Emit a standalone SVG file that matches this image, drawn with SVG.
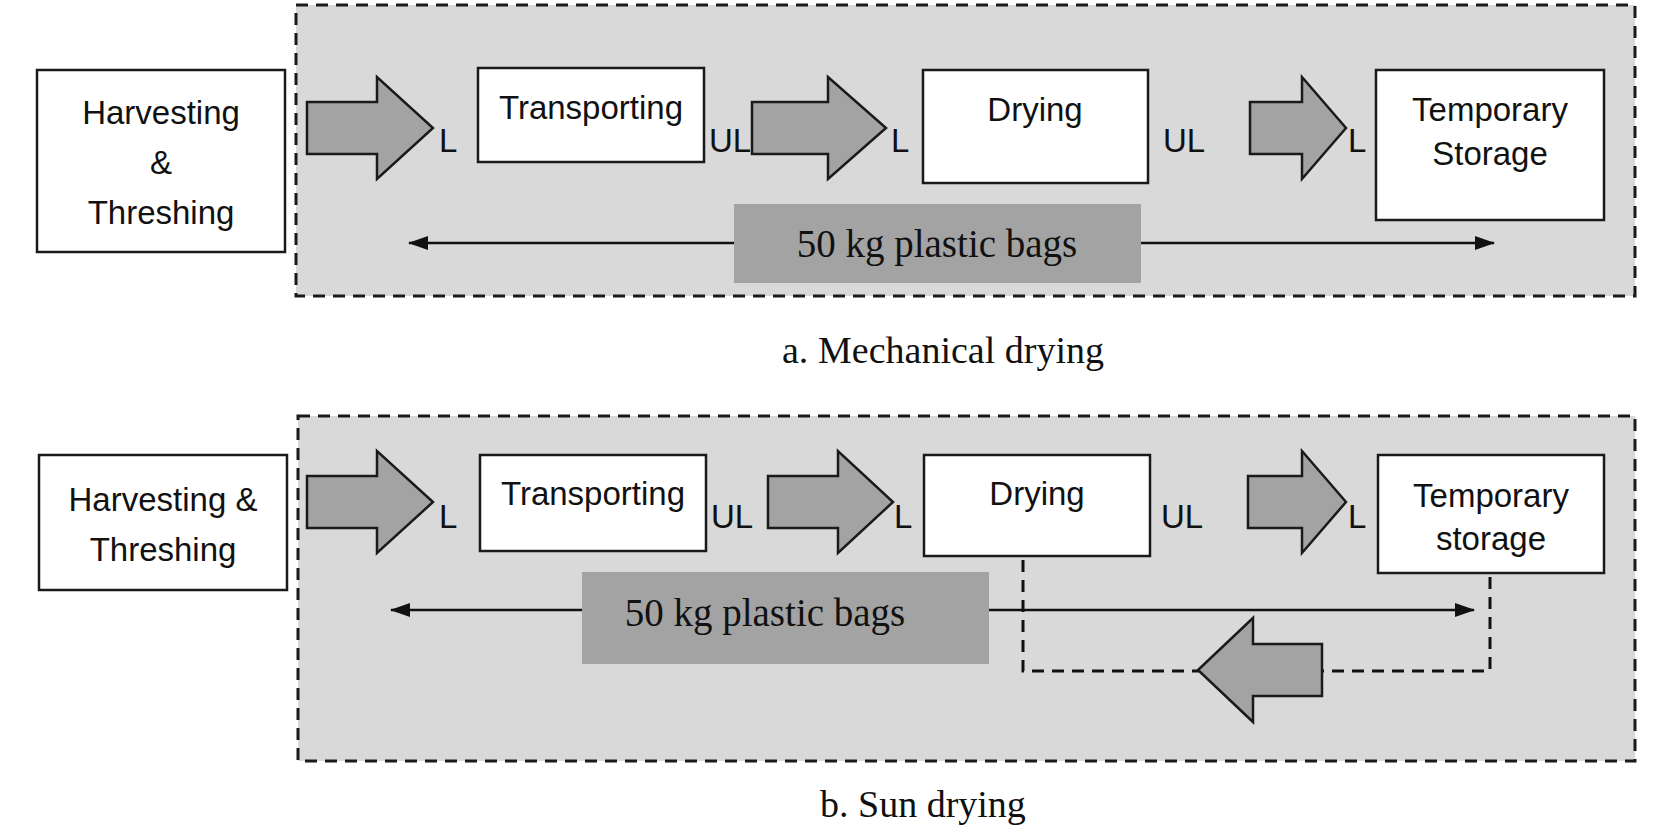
<svg xmlns="http://www.w3.org/2000/svg" width="1657" height="825" viewBox="0 0 1657 825">
<style>
.panel{fill:#d9d9d9;stroke:#1a1a1a;stroke-width:3;stroke-dasharray:12,8}
.box{fill:#fff;stroke:#1a1a1a;stroke-width:2.5}
.t{font-family:"Liberation Sans",Arial,sans-serif;font-size:33px;fill:#111;text-anchor:middle}
.lab{font-family:"Liberation Sans",Arial,sans-serif;font-size:33px;fill:#111}
.arr{fill:#a3a3a3;stroke:#1a1a1a;stroke-width:2.5;stroke-linejoin:miter}
.bag{fill:#a3a3a3}
.bt{font-family:"Liberation Serif","Times New Roman",serif;font-size:39px;fill:#111;text-anchor:middle}
.cap{font-family:"Liberation Serif","Times New Roman",serif;font-size:38px;fill:#111}
.line{stroke:#111;stroke-width:2.5;fill:none}
.dash{stroke:#111;stroke-width:3;fill:none;stroke-dasharray:12,8}
</style>
<defs>
<marker id="ah2" markerWidth="20" markerHeight="14" refX="19" refY="7" orient="auto-start-reverse" markerUnits="userSpaceOnUse" viewBox="0 0 20 14">
<path d="M0,0 L20,7 L0,14 Z" fill="#111"/>
</marker>
</defs>
<rect width="1657" height="825" fill="#fff"/>
<g id="panel-a">
<rect class="panel" x="296" y="5" width="1339" height="291"/>
</g>
<g id="connectors-a">
<line class="line" x1="409" y1="243" x2="1494" y2="243" marker-start="url(#ah2)" marker-end="url(#ah2)"/>
<polygon class="arr" points="307,102 377,102 377,77 433,128 377,179 377,154 307,154"/>
<polygon class="arr" points="752,102 828,102 828,77 886,128 828,179 828,154 752,154"/>
<polygon class="arr" points="1250,102 1302,102 1302,77 1346,128 1302,179 1302,154 1250,154"/>
</g>
<g id="a-harvest"><rect class="box" x="37" y="70" width="248" height="182"/>
<text class="t" x="161" y="124">Harvesting</text><text class="t" x="161" y="174">&amp;</text><text class="t" x="161" y="224">Threshing</text></g>
<g id="a-transport"><rect class="box" x="478" y="68" width="226" height="94"/><text class="t" x="591" y="119">Transporting</text></g>
<g id="a-drying"><rect class="box" x="923" y="70" width="225" height="113"/><text class="t" x="1035" y="121">Drying</text></g>
<g id="a-storage"><rect class="box" x="1376" y="70" width="228" height="150"/><text class="t" x="1490" y="121">Temporary</text><text class="t" x="1490" y="165">Storage</text></g>
<g id="a-labels">
<text class="lab" x="439" y="152">L</text>
<text class="lab" x="709" y="152">UL</text>
<text class="lab" x="891" y="152">L</text>
<text class="lab" x="1163" y="152">UL</text>
<text class="lab" x="1348" y="152">L</text>
</g>
<g id="a-bags"><rect class="bag" x="734" y="204" width="407" height="79"/><text class="bt" x="937" y="257">50 kg plastic bags</text></g>
<text class="cap" x="782" y="363">a.</text><text class="cap" x="818" y="363">Mechanical drying</text>

<g id="panel-b">
<rect class="panel" x="298" y="416" width="1337" height="345"/>
</g>
<g id="connectors-b">
<line class="line" x1="391" y1="610" x2="1474" y2="610" marker-start="url(#ah2)" marker-end="url(#ah2)"/>
<polyline class="dash" points="1023,560 1023,671 1490,671 1490,576"/>
<polygon class="arr" points="307,476 377,476 377,451 433,502 377,553 377,528 307,528"/>
<polygon class="arr" points="768,476 838,476 838,451 893,502 838,553 838,528 768,528"/>
<polygon class="arr" points="1248,476 1302,476 1302,451 1346,502 1302,553 1302,528 1248,528"/>
<polygon class="arr" points="1322,644 1253,644 1253,618 1198,670 1253,722 1253,696 1322,696"/>
</g>
<g id="b-harvest"><rect class="box" x="39" y="455" width="248" height="135"/>
<text class="t" x="163" y="511">Harvesting &amp;</text><text class="t" x="163" y="561">Threshing</text></g>
<g id="b-transport"><rect class="box" x="480" y="455" width="226" height="96"/><text class="t" x="593" y="505">Transporting</text></g>
<g id="b-drying"><rect class="box" x="924" y="455" width="226" height="101"/><text class="t" x="1037" y="505">Drying</text></g>
<g id="b-storage"><rect class="box" x="1378" y="455" width="226" height="118"/><text class="t" x="1491" y="507">Temporary</text><text class="t" x="1491" y="550">storage</text></g>
<g id="b-labels">
<text class="lab" x="439" y="528">L</text>
<text class="lab" x="711" y="528">UL</text>
<text class="lab" x="894" y="528">L</text>
<text class="lab" x="1161" y="528">UL</text>
<text class="lab" x="1348" y="528">L</text>
</g>
<g id="b-bags"><rect class="bag" x="582" y="572" width="407" height="92"/><text class="bt" x="765" y="626">50 kg plastic bags</text></g>
<text class="cap" x="820" y="817">b.</text><text class="cap" x="858" y="817">Sun drying</text>
</svg>
